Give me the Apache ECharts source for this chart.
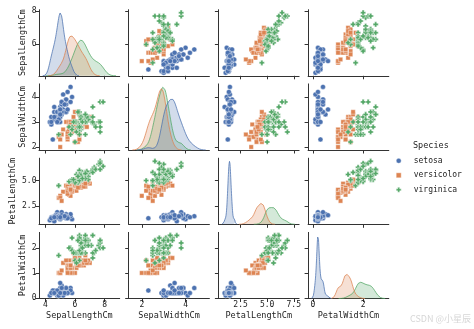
<!DOCTYPE html>
<html>
<head>
<meta charset="utf-8">
<script src="https://cdn.jsdelivr.net/npm/echarts@6/dist/echarts.min.js"></script>
<style>html,body{margin:0;padding:0;background:#fff;}#c{width:474px;height:329px;}</style>
</head>
<body>
<div id="c"></div>
<script>
// ---- data (Iris) ----
const species = ['setosa', 'versicolor', 'virginica'];
const varNames = ['SepalLengthCm', 'SepalWidthCm', 'PetalLengthCm', 'PetalWidthCm'];

const setosaSepalLength = [5.1,4.9,4.7,4.6,5.0,5.4,4.6,5.0,4.4,4.9,5.4,4.8,4.8,4.3,5.8,5.7,5.4,5.1,5.7,5.1,5.4,5.1,4.6,5.1,4.8,5.0,5.0,5.2,5.2,4.7,4.8,5.4,5.2,5.5,4.9,5.0,5.5,4.9,4.4,5.1,5.0,4.5,4.4,5.0,5.1,4.8,5.1,4.6,5.3,5.0];
const setosaSepalWidth  = [3.5,3.0,3.2,3.1,3.6,3.9,3.4,3.4,2.9,3.1,3.7,3.4,3.0,3.0,4.0,4.4,3.9,3.5,3.8,3.8,3.4,3.7,3.6,3.3,3.4,3.0,3.4,3.5,3.4,3.2,3.1,3.4,4.1,4.2,3.1,3.2,3.5,3.1,3.0,3.4,3.5,2.3,3.2,3.5,3.8,3.0,3.8,3.2,3.7,3.3];
const setosaPetalLength = [1.4,1.4,1.3,1.5,1.4,1.7,1.4,1.5,1.4,1.5,1.5,1.6,1.4,1.1,1.2,1.5,1.3,1.4,1.7,1.5,1.7,1.5,1.0,1.7,1.9,1.6,1.6,1.5,1.4,1.6,1.6,1.5,1.5,1.4,1.5,1.2,1.3,1.5,1.3,1.5,1.3,1.3,1.3,1.6,1.9,1.4,1.6,1.4,1.5,1.4];
const setosaPetalWidth  = [0.2,0.2,0.2,0.2,0.2,0.4,0.3,0.2,0.2,0.1,0.2,0.2,0.1,0.1,0.2,0.4,0.4,0.3,0.3,0.3,0.2,0.4,0.2,0.5,0.2,0.2,0.4,0.2,0.2,0.2,0.2,0.4,0.1,0.2,0.1,0.2,0.2,0.1,0.2,0.2,0.3,0.3,0.2,0.6,0.4,0.3,0.2,0.2,0.2,0.2];

const versicolorSepalLength = [7.0,6.4,6.9,5.5,6.5,5.7,6.3,4.9,6.6,5.2,5.0,5.9,6.0,6.1,5.6,6.7,5.6,5.8,6.2,5.6,5.9,6.1,6.3,6.1,6.4,6.6,6.8,6.7,6.0,5.7,5.5,5.5,5.8,6.0,5.4,6.0,6.7,6.3,5.6,5.5,5.5,6.1,5.8,5.0,5.6,5.7,5.7,6.2,5.1,5.7];
const versicolorSepalWidth  = [3.2,3.2,3.1,2.3,2.8,2.8,3.3,2.4,2.9,2.7,2.0,3.0,2.2,2.9,2.9,3.1,3.0,2.7,2.2,2.5,3.2,2.8,2.5,2.8,2.9,3.0,2.8,3.0,2.9,2.6,2.4,2.4,2.7,2.7,3.0,3.4,3.1,2.3,3.0,2.5,2.6,3.0,2.6,2.3,2.7,3.0,2.9,2.9,2.5,2.8];
const versicolorPetalLength = [4.7,4.5,4.9,4.0,4.6,4.5,4.7,3.3,4.6,3.9,3.5,4.2,4.0,4.7,3.6,4.4,4.5,4.1,4.5,3.9,4.8,4.0,4.9,4.7,4.3,4.4,4.8,5.0,4.5,3.5,3.8,3.7,3.9,5.1,4.5,4.5,4.7,4.4,4.1,4.0,4.4,4.6,4.0,3.3,4.2,4.2,4.2,4.3,3.0,4.1];
const versicolorPetalWidth  = [1.4,1.5,1.5,1.3,1.5,1.3,1.6,1.0,1.3,1.4,1.0,1.5,1.0,1.4,1.3,1.4,1.5,1.0,1.5,1.1,1.8,1.3,1.5,1.2,1.3,1.4,1.4,1.7,1.5,1.0,1.1,1.0,1.2,1.6,1.5,1.6,1.5,1.3,1.3,1.3,1.2,1.4,1.2,1.0,1.3,1.2,1.3,1.3,1.1,1.3];

const virginicaSepalLength = [6.3,5.8,7.1,6.3,6.5,7.6,4.9,7.3,6.7,7.2,6.5,6.4,6.8,5.7,5.8,6.4,6.5,7.7,7.7,6.0,6.9,5.6,7.7,6.3,6.7,7.2,6.2,6.1,6.4,7.2,7.4,7.9,6.4,6.3,6.1,7.7,6.3,6.4,6.0,6.9,6.7,6.9,5.8,6.8,6.7,6.7,6.3,6.5,6.2,5.9];
const virginicaSepalWidth  = [3.3,2.7,3.0,2.9,3.0,3.0,2.5,2.9,2.5,3.6,3.2,2.7,3.0,2.5,2.8,3.2,3.0,3.8,2.6,2.2,3.2,2.8,2.8,2.7,3.3,3.2,2.8,3.0,2.8,3.0,2.8,3.8,2.8,2.8,2.6,3.0,3.4,3.1,3.0,3.1,3.1,3.1,2.7,3.2,3.3,3.0,2.5,3.0,3.4,3.0];
const virginicaPetalLength = [6.0,5.1,5.9,5.6,5.8,6.6,4.5,6.3,5.8,6.1,5.1,5.3,5.5,5.0,5.1,5.3,5.5,6.7,6.9,5.0,5.7,4.9,6.7,4.9,5.7,6.0,4.8,4.9,5.6,5.8,6.1,6.4,5.6,5.1,5.6,6.1,5.6,5.5,4.8,5.4,5.6,5.1,5.1,5.9,5.7,5.2,5.0,5.2,5.4,5.1];
const virginicaPetalWidth  = [2.5,1.9,2.1,1.8,2.2,2.1,1.7,1.8,1.8,2.5,2.0,1.9,2.1,2.0,2.4,2.3,1.8,2.2,2.3,1.5,2.3,2.0,2.0,1.8,2.1,1.8,1.8,1.8,2.1,1.6,1.9,2.0,2.2,1.5,1.4,2.3,2.4,1.8,1.8,2.1,2.4,2.3,1.9,2.3,2.5,2.3,1.9,2.0,2.3,1.8];

// tick labels
const xTicks = [[4, 6, 8], [2, 4], [2.5, 5.0, 7.5], [0, 2]];
const yTicks = [[6, 8], [2, 3, 4], [2.5, 5.0], [0, 1, 2]];

// ---- styling ----
const colors = ['#4C72B0', '#DD8452', '#55A868'];
const symbols = ['circle', 'path://M0,0H10V10H0Z', 'path://M3,0H7V3H10V7H7V10H3V7H0V3H3Z'];
const symbolSizes = [5, 4.4, 5.2];
const FONT = 'DejaVu Sans Mono';
const AX = '#333';

const dataBy = [
  [setosaSepalLength, setosaSepalWidth, setosaPetalLength, setosaPetalWidth],
  [versicolorSepalLength, versicolorSepalWidth, versicolorPetalLength, versicolorPetalWidth],
  [virginicaSepalLength, virginicaSepalWidth, virginicaPetalLength, virginicaPetalWidth]
];

// Gaussian KDE (Scott's rule), as seaborn does
function kdeInfo(vals) {
  const n = vals.length;
  const mean = vals.reduce((a, b) => a + b, 0) / n;
  const sd = Math.sqrt(vals.reduce((a, b) => a + (b - mean) * (b - mean), 0) / (n - 1));
  const bw = sd * Math.pow(n, -0.2);
  return { bw, lo: Math.min(...vals) - 3 * bw, hi: Math.max(...vals) + 3 * bw };
}
function kdeCurve(vals, m) {
  const info = kdeInfo(vals);
  const n = vals.length, out = [];
  const norm = 1 / (n * info.bw * Math.sqrt(2 * Math.PI));
  for (let k = 0; k < m; k++) {
    const x = info.lo + (info.hi - info.lo) * k / (m - 1);
    let s = 0;
    for (const v of vals) { const z = (x - v) / info.bw; s += Math.exp(-0.5 * z * z); }
    out.push([x, s * norm / 3]);
  }
  return out;
}

// axis ranges like matplotlib autoscale (5% margins)
const xr = [], yr = [];
for (let v = 0; v < 4; v++) {
  let lo = Infinity, hi = -Infinity, dlo = Infinity, dhi = -Infinity;
  for (let s = 0; s < 3; s++) {
    const inf = kdeInfo(dataBy[s][v]);
    lo = Math.min(lo, inf.lo); hi = Math.max(hi, inf.hi);
    dlo = Math.min(dlo, ...dataBy[s][v]); dhi = Math.max(dhi, ...dataBy[s][v]);
  }
  const m = (hi - lo) * 0.05, dm = (dhi - dlo) * 0.05;
  xr.push([lo - m, hi + m]);
  yr.push([dlo - dm, dhi + dm]);
}

// ---- layout ----
const colLeft = [39, 128.7, 218.4, 308.1], colW = 80.7;
const rowTop = [9.7, 83.9, 158.2, 232.4], rowH = 66.1;
const yNameGap = [12, 12, 22, 12];

const grids = [], xAxes = [], yAxes = [], series = [];
const fmt = (v) => (Number.isInteger(v) ? String(v) : v.toFixed(1));
const fmtX = (j) => (v) => (j === 2 ? v.toFixed(1) : fmt(v));
const fmtY = (i) => (v) => (i === 2 ? v.toFixed(1) : fmt(v));

for (let i = 0; i < 4; i++) {
  for (let j = 0; j < 4; j++) {
    const g = i * 4 + j;
    grids.push({ left: colLeft[j], top: rowTop[i], width: colW, height: rowH, outerBoundsMode: 'none', containLabel: false });
    xAxes.push({
      type: 'value', gridIndex: g, min: xr[j][0], max: xr[j][1],
      axisLine: { show: true, onZero: false, lineStyle: { color: AX, width: 1 } },
      axisTick: { show: true, length: 3.5, lineStyle: { color: AX, width: 1 }, customValues: xTicks[j] },
      axisLabel: { show: i === 3, customValues: xTicks[j], formatter: fmtX(j), fontSize: 8, color: '#222', fontFamily: FONT, margin: 2.5 },
      splitLine: { show: false },
      name: i === 3 ? varNames[j] : '', nameLocation: 'middle', nameGap: 12.5, nameMoveOverlap: false,
      nameTextStyle: { fontSize: 8.5, color: '#222', fontFamily: FONT }
    });
    yAxes.push({
      type: 'value', gridIndex: g, min: yr[i][0], max: yr[i][1],
      axisLine: { show: true, onZero: false, lineStyle: { color: AX, width: 1 } },
      axisTick: { show: true, length: 3.5, lineStyle: { color: AX, width: 1 }, customValues: yTicks[i] },
      axisLabel: { show: j === 0, customValues: yTicks[i], formatter: fmtY(i), fontSize: 8, color: '#222', fontFamily: FONT, margin: 2.5 },
      splitLine: { show: false },
      name: j === 0 ? varNames[i] : '', nameLocation: 'middle', nameGap: yNameGap[i], nameMoveOverlap: false,
      nameTextStyle: { fontSize: 8.5, color: '#222', fontFamily: FONT }
    });
    if (i !== j) {
      for (let s = 0; s < 3; s++) {
        const xs = dataBy[s][j], ys = dataBy[s][i];
        series.push({
          type: 'scatter', name: species[s], xAxisIndex: g, yAxisIndex: g,
          data: xs.map((x, k) => [x, ys[k]]),
          symbol: symbols[s], symbolSize: symbolSizes[s],
          itemStyle: { color: colors[s], borderColor: '#fff', borderWidth: 0.4, opacity: 1 },
          emphasis: { disabled: true }, animation: false, silent: true
        });
      }
    }
  }
}
// density axes for diagonal
for (let d = 0; d < 4; d++) {
  const g = d * 4 + d;
  const curves = dataBy.map((sp) => kdeCurve(sp[d], 200));
  let mx = 0;
  curves.forEach((c) => c.forEach((p) => { if (p[1] > mx) mx = p[1]; }));
  const yi = yAxes.length;
  yAxes.push({ type: 'value', gridIndex: g, min: 0, max: mx * 1.05, show: false, position: 'right', splitLine: { show: false } });
  for (let s = 2; s >= 0; s--) {
    series.push({
      type: 'line', name: species[s], xAxisIndex: g, yAxisIndex: yi,
      data: curves[s], showSymbol: false, symbol: 'none', smooth: false,
      lineStyle: { color: colors[s], width: 0.9, opacity: 0.85 },
      areaStyle: { color: colors[s], opacity: 0.25 },
      itemStyle: { color: colors[s] },
      z: 1, animation: false, silent: true
    });
  }
}

const option = {
  backgroundColor: '#fff',
  animation: false,
  title: { text: 'Species', left: 413, top: 141.5, padding: 0, textStyle: { fontSize: 8.5, fontWeight: 'normal', color: '#222', fontFamily: FONT } },
  legend: {
    orient: 'vertical', left: 396, top: 156.8, padding: 0,
    itemWidth: 20, itemHeight: 5, itemGap: 6.5,
    textStyle: { fontSize: 8, color: '#222', fontFamily: FONT, lineHeight: 5 },
    data: species.map((s, k) => ({ name: s, icon: symbols[k], itemStyle: { color: colors[k], borderColor: '#fff', borderWidth: 0.4 } })),
    selectedMode: false
  },
  graphic: [{ type: 'text', left: 410, top: 314, style: { text: 'CSDN @小星辰', fill: '#d6d6d6', fontSize: 9, fontFamily: 'Noto Sans CJK SC' }, silent: true }],
  grid: grids, xAxis: xAxes, yAxis: yAxes, series: series
};
const chart = echarts.init(document.getElementById('c'), null, { renderer: 'canvas' });
chart.setOption(option);
</script>
</body>
</html>
